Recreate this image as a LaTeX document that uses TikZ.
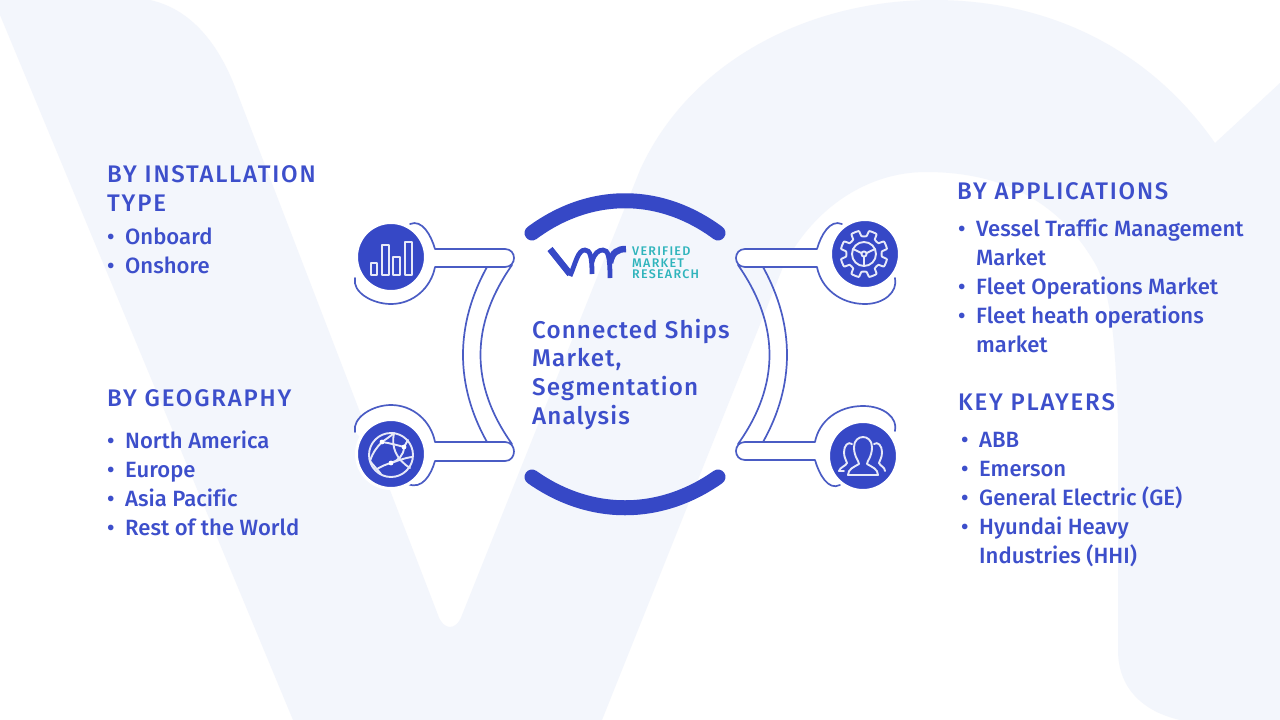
\documentclass[tikz,border=0pt]{standalone}
\usepackage{fontspec}
\setmainfont{Fira Sans Medium}[Ligatures=NoCommon]
\definecolor{bgp}{HTML}{F3F6FC}
\definecolor{ink}{HTML}{3D4FCB}
\definecolor{line}{HTML}{4A5CC4}
\definecolor{disc}{HTML}{3648C6}
\definecolor{teal}{HTML}{2FB4BC}
\tikzset{
 pale/.style={fill=bgp,draw=none},
 outline/.style={draw=line,line width=1.7pt,fill=none,line cap=round,line join=round},
 keyhole/.style={outline,fill=white},
 band/.style={draw=disc,line width=15pt,line cap=round},
 iconline/.style={draw=white!88!disc,line width=1.9pt,fill=none,line join=round,line cap=round},
 dsc/.style={circle,fill=disc,draw=white,line width=3pt,minimum size=69pt,inner sep=0pt},
 txt/.style={anchor=base west,yshift=-7.5pt,text=ink,inner sep=0pt,font=\fontsize{22.1}{22}\selectfont},
 head/.style={anchor=base west,yshift=-8pt,text=ink,inner sep=0pt,font=\fontsize{24}{24}\selectfont\addfontfeature{LetterSpace=7.5}},
 ctitle/.style={anchor=base west,yshift=-8pt,text=ink,inner sep=0pt,font=\fontsize{24.2}{24}\selectfont\addfontfeature{LetterSpace=4.5}},
 logot/.style={anchor=base west,yshift=-4.5pt,text=teal,inner sep=0pt,font=\fontsize{12.5}{12.5}\selectfont\addfontfeature{LetterSpace=10}},
}
\begin{document}
\begin{tikzpicture}[x=1pt,y=-1pt]
\useasboundingbox (0,0) rectangle (1280,720);
\fill[white] (0,0) rectangle (1280,720);
% pale background shape
\path[pale] (0,15) -- (0,0) -- (150,0) .. controls (195,10) and (222,50) .. (238,95)
 -- (438,615) .. controls (443,630) and (456,632) .. (462,615)
 -- (640,170) .. controls (690,60) and (810,0) .. (934,0)
 .. controls (1050,0) and (1150,50) .. (1215,143)
 -- (1280,83) -- (1280,720) -- (1180,720) .. controls (1145,712) and (1118,690) .. (1118,650)
 -- (1118,420) .. controls (1115,340) and (1112,300) .. (1097,267)
 .. controls (1060,200) and (1000,172) .. (926,172)
 .. controls (870,172) and (815,205) .. (783,267)
 -- (602,720) -- (293,720) -- cycle;
% centre arcs
\draw[band] (532,233) .. controls (590,190) and (660,190) .. (718,233);
\draw[band] (532,477) .. controls (590,518) and (660,518) .. (718,477);
% inner curves
\coordinate (lbI1) at (487,267); \coordinate (lbI2) at (487,442);
\coordinate (lbO1) at (512,265); \coordinate (lbO2) at (512,444);
\draw[outline] (lbI1) .. controls (455,325) and (455,385) .. (lbI2);
\draw[outline] (lbO1) .. controls (470,325) and (470,385) .. (lbO2);
\coordinate (rbI1) at (763,267); \coordinate (rbI2) at (763,442);
\coordinate (rbO1) at (738,265); \coordinate (rbO2) at (738,444);
\draw[outline] (rbI1) .. controls (795,325) and (795,385) .. (rbI2);
\draw[outline] (rbO1) .. controls (780,325) and (780,385) .. (rbO2);
% top-left keyhole
\draw[keyhole] (355,278) .. controls (352,292) and (372,304) .. (391,304)
 .. controls (413,304) and (431,288) .. (435,267) -- (505,267)
 .. controls (517,267) and (517,249) .. (505,249) -- (435,249)
 .. controls (431,235) and (422,219) .. (410,224);
% bottom-left keyhole
\draw[keyhole] (355,432) .. controls (352,418) and (372,405) .. (391,405)
 .. controls (413,405) and (431,421) .. (435,442) -- (505,442)
 .. controls (517,442) and (517,461) .. (505,461) -- (435,461)
 .. controls (431,475) and (422,490) .. (408,484);
% top-right keyhole
\draw[keyhole] (895,278) .. controls (898,292) and (884,304) .. (865,304)
 .. controls (840,304) and (821,288) .. (817,267) -- (745,267)
 .. controls (733,267) and (733,249) .. (745,249) -- (817,249)
 .. controls (821,235) and (830,219) .. (842,224);
% bottom-right keyhole
\draw[keyhole] (895,431) .. controls (898,418) and (884,406) .. (863,406)
 .. controls (838,406) and (819,421) .. (815,442) -- (745,442)
 .. controls (733,442) and (733,460) .. (745,460) -- (815,460)
 .. controls (819,474) and (828,491) .. (840,485);
% discs
\node[dsc] (d1) at (391,257) {};
\node[dsc] (d2) at (391,454) {};
\node[dsc] (d3) at (865,254) {};
\node[dsc] (d4) at (863,456) {};
% icon 1 bars
\begin{scope}[shift={(391,257)}]
\draw[iconline] (-20,6) rectangle (-14,18);
\draw[iconline] (-9,-12) rectangle (-2,18);
\draw[iconline] (2,0) rectangle (9,18);
\draw[iconline] (14,-15) rectangle (21,18);
\end{scope}
% icon 2 globe
\begin{scope}[shift={(391,455)}]
\draw[iconline] (0,0) circle (22);
\draw[iconline] (-21,6) .. controls (-18,-3) and (-14,-8) .. (-9,-13);
\draw[iconline] (-9,-13) .. controls (-5,-16) and (0,-19) .. (3,-22);
\draw[iconline] (3,-22) .. controls (0,-8) and (5,4) .. (19,13);
\draw[iconline] (-9,-13) .. controls (-2,-12) and (6,-10) .. (13,-8);
\draw[iconline] (13,-8) .. controls (13,0) and (7,6) .. (0,8);
\draw[iconline] (13,-8) -- (17,-15);
\draw[iconline] (-14,14) .. controls (-9,11) and (-4,9) .. (0,8) .. controls (6,6) and (13,3) .. (21,2);
\draw[iconline] (-21,6) .. controls (-18,10) and (-14,14) .. (-10,19);
\fill[white] (-9,-13) circle (2.4) (13,-8) circle (2.4) (0,8) circle (2.4);
\end{scope}
% icon 3 gear + wheel
\begin{scope}[shift={(864,254)}]
\draw[iconline] plot[smooth cycle,tension=0.3] coordinates {
 (8:18)(13:23.5)(32:23.5)(37:18)(53:18)(58:23.5)(77:23.5)(82:18)(98:18)(103:23.5)(122:23.5)(127:18)(143:18)(148:23.5)(167:23.5)(172:18)(188:18)(193:23.5)(212:23.5)(217:18)(233:18)(238:23.5)(257:23.5)(262:18)(278:18)(283:23.5)(302:23.5)(307:18)(323:18)(328:23.5)(347:23.5)(352:18)};
\draw[iconline] (0,0) circle (12);
\draw[iconline] (0,0) circle (2.6);
\draw[iconline] (-11,-5) -- (-2.6,-1) (11,-5) -- (2.6,-1) (0,3) -- (0,11.5);
\end{scope}
% icon 4 people
\begin{scope}[shift={(863,456)}]
\draw[iconline] (-15,19) .. controls (-15,13) and (-9,11) .. (-4,8) .. controls (-4,5) and (-9,1) .. (-9,-9) .. controls (-9,-16) and (-4,-19) .. (0,-19) .. controls (4,-19) and (9,-16) .. (9,-9) .. controls (9,1) and (4,5) .. (4,8) .. controls (9,11) and (15,13) .. (15,19) -- cycle;
\draw[iconline] (-11,-12) .. controls (-15,-15) and (-19,-10) .. (-19,-4) .. controls (-19,2) and (-17,3) .. (-16,7) .. controls (-17,10) and (-23,11) .. (-24,15) -- (-19,15);
\draw[iconline] (11,-12) .. controls (15,-15) and (19,-10) .. (19,-4) .. controls (19,2) and (17,3) .. (16,7) .. controls (17,10) and (22,11) .. (22,15);
\end{scope}
% logo
\draw[disc,line width=6.5pt,line join=round] (550,249) -- (570,274);
\draw[disc,line width=4.8pt] (570,276) .. controls (576,262) and (578,250) .. (585,250) .. controls (590,250) and (592,256) .. (592,274);
\draw[disc,line width=4.8pt] (592,262) .. controls (594,253) and (599,250) .. (603,250) .. controls (608,250) and (610,256) .. (610,278);
\draw[disc,line width=6.5pt] (610,263) .. controls (612,252) and (618,249) .. (626,249);
\node[logot] (l1) at (632,251) {VERIFIED};
\node[logot] (l2) at (632,262.5) {MARKET};
\node[logot] (l3) at (632,274) {RESEARCH};
% centre title
\node[ctitle] (c1) at (532,330) {Connected Ships};
\node[ctitle] (c2) at (532,358) {Market,};
\node[ctitle] (c3) at (532,387) {Segmentation};
\node[ctitle] (c4) at (532,416) {Analysis};
% left texts
\node[head] (h1) at (107,174.5) {BY INSTALLATION};
\node[head] (h1b) at (107,203) {TYPE};
\node[txt] (a1) at (107,237) {•};\node[txt] (a1t) at (125,237) {Onboard};
\node[txt] (a2) at (107,266) {•};\node[txt] (a2t) at (125,266) {Onshore};
\node[head] (h2) at (107,398) {BY GEOGRAPHY};
\node[txt] (b1) at (107,441) {•};\node[txt] (b1t) at (125,441) {North America};
\node[txt] (b2) at (107,470) {•};\node[txt] (b2t) at (125,470) {Europe};
\node[txt] (b3) at (107,499) {•};\node[txt] (b3t) at (125,499) {Asia Pacific};
\node[txt] (b4) at (107,528) {•};\node[txt] (b4t) at (125,528) {Rest of the World};
% right texts
\node[head] (h3) at (957,191.5) {BY APPLICATIONS};
\node[txt] (e1) at (958,229) {•};\node[txt] (e1t) at (976,229) {Vessel Traffic Management};
\node[txt] (e1b) at (976,258) {Market};
\node[txt] (e2) at (958,287) {•};\node[txt] (e2t) at (976,287) {Fleet Operations Market};
\node[txt] (e3) at (958,316) {•};\node[txt] (e3t) at (976,316) {Fleet heath operations};
\node[txt] (e3b) at (976,345) {market};
\node[head] (h4) at (958,402) {KEY PLAYERS};
\node[txt] (f1) at (961,440) {•};\node[txt] (f1t) at (979,440) {ABB};
\node[txt] (f2) at (961,469) {•};\node[txt] (f2t) at (979,469) {Emerson};
\node[txt] (f3) at (961,498) {•};\node[txt] (f3t) at (979,498) {General Electric (GE)};
\node[txt] (f4) at (961,527) {•};\node[txt] (f4t) at (979,527) {Hyundai Heavy};
\node[txt] (f4b) at (979,556) {Industries (HHI)};
\end{tikzpicture}
\end{document}
